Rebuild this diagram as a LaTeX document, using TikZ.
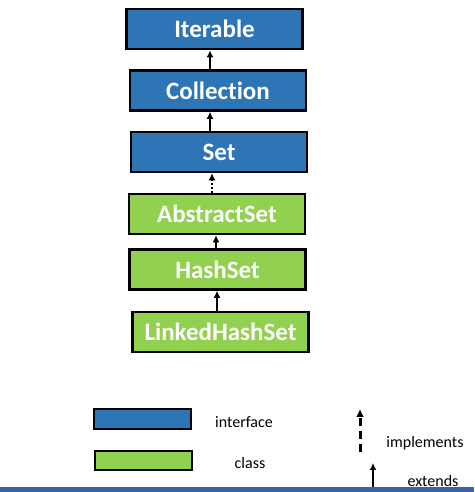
\documentclass[tikz,border=0pt]{standalone}
\usepackage{fontspec}
\setmainfont{Carlito}[Ligatures=NoCommon]
\usetikzlibrary{arrows.meta}

\definecolor{ifaceblue}{HTML}{2E75B6}
\definecolor{classgreen}{HTML}{92D050}
\definecolor{lineblue}{HTML}{3A64AA}

\begin{document}
\begin{tikzpicture}[x=1pt,y=1pt,
    box/.style={draw=black,line width=2.6pt,minimum width=176pt,minimum height=40pt,
        inner sep=0pt,text=white,font=\bfseries\fontsize{25}{29}\selectfont},
    iface/.style={box,fill=ifaceblue},
    cls/.style={box,fill=classgreen},
    ext/.style={-{Latex[length=7pt,width=7pt]},line width=1.8pt},
    impl/.style={ext,dash pattern=on 2pt off 2pt},
    legtext/.style={font=\fontsize{16}{19}\selectfont}]

            \useasboundingbox (0,0) rectangle (474,492);

            % Hierarchy boxes
            \foreach \nm/\lab/\sty/\x/\y in {
            iterable/Iterable/iface/214.5/463,
            collection/Collection/iface/218/401.5,
            set/Set/iface/219/340,
            abstractset/AbstractSet/cls/217/278,
            hashset/HashSet/cls/217.5/222.5,
            linkedhashset/LinkedHashSet/cls/220.5/160} {
            \node [\sty] (\nm) at (\x,\y) {\lab};
            }

            % Arrows between the boxes
            \foreach \a/\b/\x in {collection/iterable/210, set/collection/210, hashset/abstractset/216, linkedhashset/hashset/217} {
            \draw [ext] (\a.north -| \x,0) -- (\b.south -| \x,0);
            }
            \draw [impl] (abstractset.north -| 212,0) -- (set.south -| 212,0);

            % Legend
            \node [draw=black,line width=2.2pt,fill=ifaceblue,minimum width=97pt,minimum height=20pt] (ifacekey) at (142.5,73) {};
            \node [draw=black,line width=2.2pt,fill=classgreen,minimum width=97pt,minimum height=19pt] (classkey) at (143.5,31.5) {};
            \node [legtext] (ifacelab) at (244,70) {interface};
            \node [legtext] (classlab) at (250,29) {class};

            \coordinate (implfrom) at (360,40);
            \coordinate (implto) at (360,83);
            \draw [-{Latex[length=8pt,width=8pt]},line width=3pt,dash pattern=on 8pt off 5pt] (implfrom) -- (implto);
            \node [legtext] (impllab) at (425,49) {implements};

            \coordinate (extfrom) at (373,3);
            \coordinate (extto) at (373,29);
            \draw [ext] (extfrom) -- (extto);
            \node [legtext] (extlab) at (433,11) {extends};

            % Blue rule along the bottom
            \fill [lineblue] (0,0) rectangle (474,4.5);

        \end{tikzpicture}
\end{document}
